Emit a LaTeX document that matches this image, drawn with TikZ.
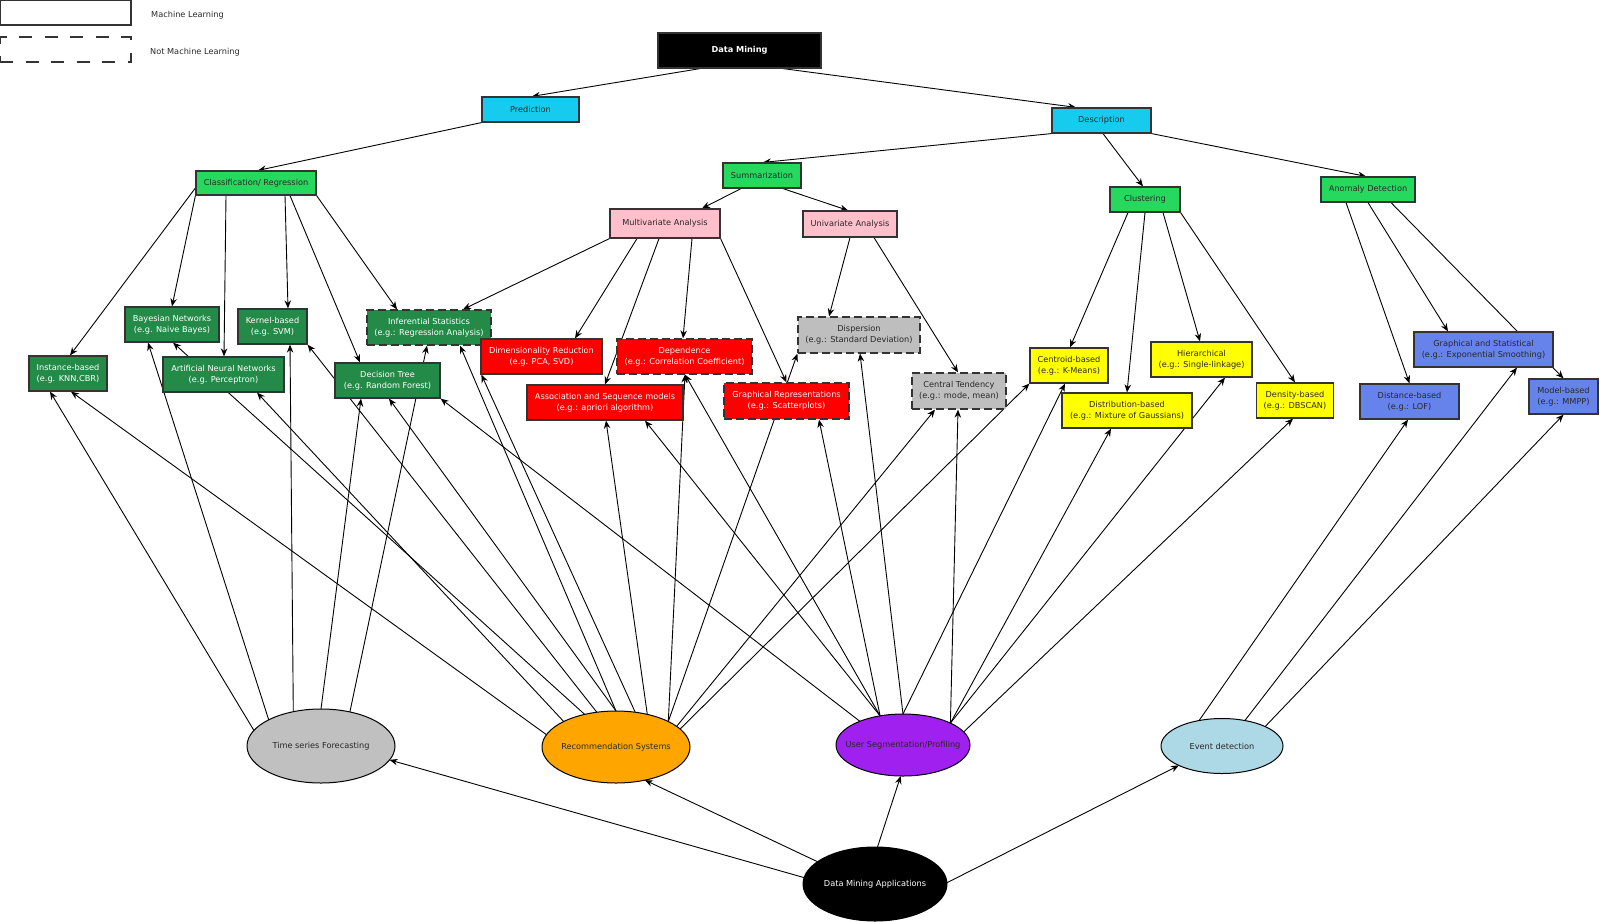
\documentclass[tikz,border=0pt]{standalone}
\usepackage{fontspec}
\setmainfont{DejaVu Sans}
\usetikzlibrary{arrows.meta,calc,shapes.geometric,backgrounds}
\definecolor{bordc}{RGB}{51,51,51}
\definecolor{txtc}{RGB}{40,40,40}
\definecolor{cyanc}{RGB}{23,203,239}
\definecolor{lgreenc}{RGB}{38,216,94}
\definecolor{dgreenc}{RGB}{36,138,72}
\definecolor{pinkc}{RGB}{255,192,203}
\definecolor{redc}{RGB}{255,0,0}
\definecolor{grayc}{RGB}{190,190,190}
\definecolor{yellowc}{RGB}{255,255,0}
\definecolor{bluec}{RGB}{102,131,236}
\definecolor{tsc}{RGB}{192,192,192}
\definecolor{orangec}{RGB}{255,165,0}
\definecolor{purplec}{RGB}{160,32,240}
\definecolor{lbluec}{RGB}{173,216,230}
\newcommand\dmfont{\fontsize{8.2pt}{10.6pt}\selectfont}
\tikzset{
  sz/.style 2 args={minimum width=#1pt,minimum height=#2pt},
  box/.style={draw=bordc, line width=1.2pt, rectangle, inner sep=0pt, align=center, font=\dmfont, text=txtc},
  dashbord/.style={dash pattern=on 8pt off 4pt},
  cyanbox/.style={box, fill=cyanc},
  lgbox/.style={box, fill=lgreenc},
  dgbox/.style={box, fill=dgreenc, text=white},
  pinkbox/.style={box, fill=pinkc},
  redbox/.style={box, fill=redc, text=white},
  graybox/.style={box, fill=grayc},
  ybox/.style={box, fill=yellowc},
  bbox/.style={box, fill=bluec},
  ell/.style={draw=black, line width=1pt, ellipse, inner sep=0pt, font=\dmfont, text=txtc},
  legbox/.style={draw=bordc, line width=1.2pt, rectangle, inner sep=0pt, minimum width=131pt, minimum height=25pt},
  legtext/.style={font=\dmfont, text=txtc, inner sep=0pt, anchor=west},
  link/.style={draw=black, line width=0.9pt, -{Stealth[length=8pt,width=6.5pt]}}
}
\begin{document}
\begin{tikzpicture}[x=1pt,y=-1pt]
\useasboundingbox (0,0) rectangle (1600,921);
% legend
\node[legbox] (lg1) at (65.5,12.5) {};
\node[legbox, dash pattern=on 13pt off 12.5pt] (lg2) at (65.5,49.5) {};
\node[legtext] (lt1) at (151,15) {Machine Learning};
\node[legtext] (lt2) at (150,52) {Not Machine Learning};
% top
\node[box, fill=black, text=white, font=\dmfont\bfseries, sz={163}{35}] (dm) at (739.5,50.5) {Data Mining};
\node[cyanbox,sz={97}{25}] (pred) at (530.5,109.5) {Prediction};
\node[cyanbox,sz={99}{25}] (desc) at (1101.5,120.5) {Description};
\node[lgbox,sz={120}{24}] (clf) at (256,183) {Classification/ Regression};
\node[lgbox,sz={78}{25}] (summ) at (762,175.5) {Summarization};
\node[pinkbox,sz={110}{29}] (multi) at (665,223.5) {Multivariate Analysis};
\node[pinkbox,sz={94}{26}] (uni) at (850,224) {Univariate Analysis};
\node[lgbox,sz={70}{25}] (clus) at (1145,199.5) {Clustering};
\node[lgbox,sz={94}{25}] (anom) at (1368,189.5) {Anomaly Detection};
% techniques
\node[dgbox,sz={94}{35}] (bayes) at (172,324.5) {Bayesian Networks\\(e.g. Naive Bayes)};
\node[dgbox,sz={69}{35}] (kernel) at (272.5,326.5) {Kernel-based\\(e.g. SVM)};
\node[dgbox,dashbord,sz={124}{35}] (infer) at (429,327.5) {Inferential Statistics\\(e.g.: Regression Analysis)};
\node[dgbox,sz={78}{35}] (inst) at (68,373.5) {Instance-based\\(e.g. KNN,CBR)};
\node[dgbox,sz={121}{35}] (ann) at (223.5,374.5) {Artificial Neural Networks\\(e.g. Perceptron)};
\node[dgbox,sz={105}{35}] (dt) at (387.5,380.5) {Decision Tree\\(e.g. Random Forest)};
\node[redbox,sz={121}{35}] (dim) at (541.5,356.5) {Dimensionality Reduction\\(e.g. PCA, SVD)};
\node[redbox,dashbord,sz={135}{35}] (dep) at (684.5,356.5) {Dependence\\(e.g.: Correlation Coefficient)};
\node[redbox,sz={156}{35}] (assoc) at (605,402.5) {Association and Sequence models\\(e.g.: apriori algorithm)};
\node[redbox,dashbord,sz={125}{36}] (graph) at (786.5,401) {Graphical Representations\\(e.g.: Scatterplots)};
\node[graybox,dashbord,sz={122}{36}] (disp) at (859,335) {Dispersion\\(e.g.: Standard Deviation)};
\node[graybox,dashbord,sz={94}{36}] (ct) at (959,391) {Central Tendency\\(e.g.: mode, mean)};
\node[ybox,sz={78}{35}] (centroid) at (1069,365.5) {Centroid-based\\(e.g.: K-Means)};
\node[ybox,sz={101}{35}] (hier) at (1201.5,359.5) {Hierarchical\\(e.g.: Single-linkage)};
\node[ybox,sz={130}{35}] (distr) at (1127,410.5) {Distribution-based\\(e.g.: Mixture of Gaussians)};
\node[ybox,sz={77}{35}] (dens) at (1295,400.5) {Density-based\\(e.g.: DBSCAN)};
\node[bbox,sz={139}{35}] (gs) at (1483.5,349.5) {Graphical and Statistical\\(e.g.: Exponential Smoothing)};
\node[bbox,sz={99}{35}] (dist) at (1409.5,401.5) {Distance-based\\(e.g.: LOF)};
\node[bbox,sz={69}{35}] (model) at (1563.5,396.5) {Model-based\\(e.g.: MMPP)};
% applications
\node[ell,fill=tsc,sz={148}{74}] (ts) at (321,746) {\makebox[0pt]{Time series Forecasting}};
\node[ell,fill=orangec,sz={148}{72}] (rec) at (616,747) {\makebox[0pt]{Recommendation Systems}};
\node[ell,fill=purplec,sz={134}{62}] (us) at (903,745) {\makebox[0pt]{User Segmentation/Profiling}};
\node[ell,fill=lbluec,sz={122}{55}] (ev) at (1222,746) {\makebox[0pt]{Event detection}};
\node[ell,fill=black,text=white,sz={144}{74}] (dma) at (875,884) {\makebox[0pt]{Data Mining Applications}};
\begin{scope}[on background layer]
% top
\draw[link] ([xshift=-39.5pt]dm.south) -- ([xshift=1.5pt]pred.north);
\draw[link] ([xshift=43.5pt]dm.south) -- ([xshift=-25.5pt]desc.north);
\draw[link] (pred.south west) -- ([xshift=2pt]clf.north);
\draw[link] (desc.south west) -- ([xshift=1pt]summ.north);
\draw[link] ([xshift=1.5pt]desc.south) -- ([xshift=-2pt]clus.north);
\draw[link] (desc.south east) -- ([xshift=-2pt]anom.north);
\draw[link] ([xshift=-21pt]summ.south) -- ([xshift=37pt]multi.north);
\draw[link] ([xshift=21pt]summ.south) -- ([xshift=-2pt]uni.north);
% classification
\draw[link] ($(clf.west)+(0,5)$) -- ([xshift=2pt]inst.north);
\draw[link] (clf.south west) -- (bayes.north);
\draw[link] ([xshift=-30pt]clf.south) -- ([xshift=0.5pt]ann.north);
\draw[link] ([xshift=29pt]clf.south) -- ([xshift=15.5pt]kernel.north);
\draw[link] ([xshift=34pt]clf.south) -- ([xshift=-27.5pt]dt.north);
\draw[link] (clf.south east) -- ([xshift=-32pt]infer.north);
% multivariate
\draw[link] (multi.south west) -- ([xshift=34pt]infer.north);
\draw[link] ([xshift=-28pt]multi.south) -- ([xshift=33.5pt]dim.north);
\draw[link] ([xshift=-6pt]multi.south) -- (assoc.north);
\draw[link] ([xshift=27pt]multi.south) -- ([xshift=-1.5pt]dep.north);
\draw[link] (multi.south east) -- (graph.north);
% univariate
\draw[link] (uni.south) -- ([xshift=-30pt]disp.north);
\draw[link] ([xshift=24pt]uni.south) -- ([xshift=-1pt]ct.north);
% clustering
\draw[link] ([xshift=-17pt]clus.south) -- ([xshift=1pt]centroid.north);
\draw[link] (clus.south) -- (distr.north);
\draw[link] ([xshift=18pt]clus.south) -- ([xshift=-1.5pt]hier.north);
\draw[link] (clus.south east) -- (dens.north);
% anomaly
\draw[link] ([xshift=-22pt]anom.south) -- (dist.north);
\draw[link] (anom.south) -- ([xshift=-35.5pt]gs.north);
\draw[link] ([xshift=23pt]anom.south) -- (model.north);
% applications
\draw[link] ($(dma.center)+(-70.9,-6.4)$) -- ($(ts.center)+(68.6,13.9)$);
\draw[link] ($(dma.center)+(-57.5,-22.3)$) -- ($(rec.center)+(28.9,33.1)$);
\draw[link] ($(dma.center)+(2.5,-37)$) -- ($(us.center)+(-2.3,31)$);
\draw[link] ($(dma.center)+(72,-1.3)$) -- ($(ev.center)+(-43.1,19.4)$);
% time series
\draw[link] ($(ts.center)+(-67.1,-15.6)$) -- ([xshift=-18pt]inst.south);
\draw[link] ($(ts.center)+(-52.3,-26.2)$) -- ([xshift=-24pt]bayes.south);
\draw[link] ($(ts.center)+(-27.7,-34.3)$) -- ([xshift=17.5pt]kernel.south);
\draw[link] ($(ts.center)+(0,-37)$) -- ([xshift=-26.5pt]dt.south);
\draw[link] ($(ts.center)+(28.9,-34.1)$) -- ([xshift=-2pt]infer.south);
% recommendation
\draw[link] ($(rec.center)+(-69.5,-12.3)$) -- ([xshift=3pt]inst.south);
\draw[link] ($(rec.center)+(-52.3,-25.5)$) -- ([xshift=33.5pt]ann.south);
\draw[link] ($(rec.center)+(-31.3,-32.6)$) -- ([xshift=1pt]bayes.south);
\draw[link] ($(rec.center)+(-19.2,-34.8)$) -- (kernel.south east);
\draw[link] ($(rec.center)+(0,-36)$) -- ([xshift=1.5pt]dt.south);
\draw[link] ($(rec.center)+(0,-36)$) -- ([xshift=31pt]infer.south);
\draw[link] ($(rec.center)+(19.2,-34.8)$) -- ([xshift=1pt]dim.south west);
\draw[link] ($(rec.center)+(31.3,-32.6)$) -- ([xshift=1pt]assoc.south);
\draw[link] ($(rec.center)+(52.3,-25.5)$) -- ([xshift=0.5pt]dep.south);
\draw[link] ($(rec.center)+(52.3,-25.5)$) -- (disp.south west);
\draw[link] ($(rec.center)+(60.6,-20.6)$) -- ([xshift=-24pt]ct.south);
\draw[link] ($(rec.center)+(64.1,-18)$) -- (centroid.south west);
% user segmentation
\draw[link] ($(us.center)+(-43.1,-23.7)$) -- (dt.south east);
\draw[link] ($(us.center)+(-22.9,-29.1)$) -- ([xshift=0.5pt]dep.south);
\draw[link] ($(us.center)+(-22.9,-29.1)$) -- ([xshift=40pt]assoc.south);
\draw[link] ($(us.center)+(-22.9,-29.1)$) -- ([xshift=32.5pt]graph.south);
\draw[link] ($(us.center)+(0,-31)$) -- ([xshift=1pt]disp.south);
\draw[link] ($(us.center)+(47.4,-21.9)$) -- ([xshift=-1pt]ct.south);
\draw[link] ($(us.center)+(0,-31)$) -- ([xshift=-4pt]centroid.south);
\draw[link] ($(us.center)+(47.4,-21.9)$) -- ([xshift=-16pt]distr.south);
\draw[link] ($(us.center)+(47.4,-21.9)$) -- ([xshift=23.5pt]hier.south);
\draw[link] ($(us.center)+(60.7,-13.1)$) -- ([xshift=-2pt]dens.south);
% event detection
\draw[link] ($(ev.center)+(-22.9,-25.5)$) -- ([xshift=-1.5pt]dist.south);
\draw[link] ($(ev.center)+(22.9,-25.5)$) -- ([xshift=33.5pt]gs.south);
\draw[link] ($(ev.center)+(43.1,-19.4)$) -- (model.south);
\end{scope}
\end{tikzpicture}
\end{document}
